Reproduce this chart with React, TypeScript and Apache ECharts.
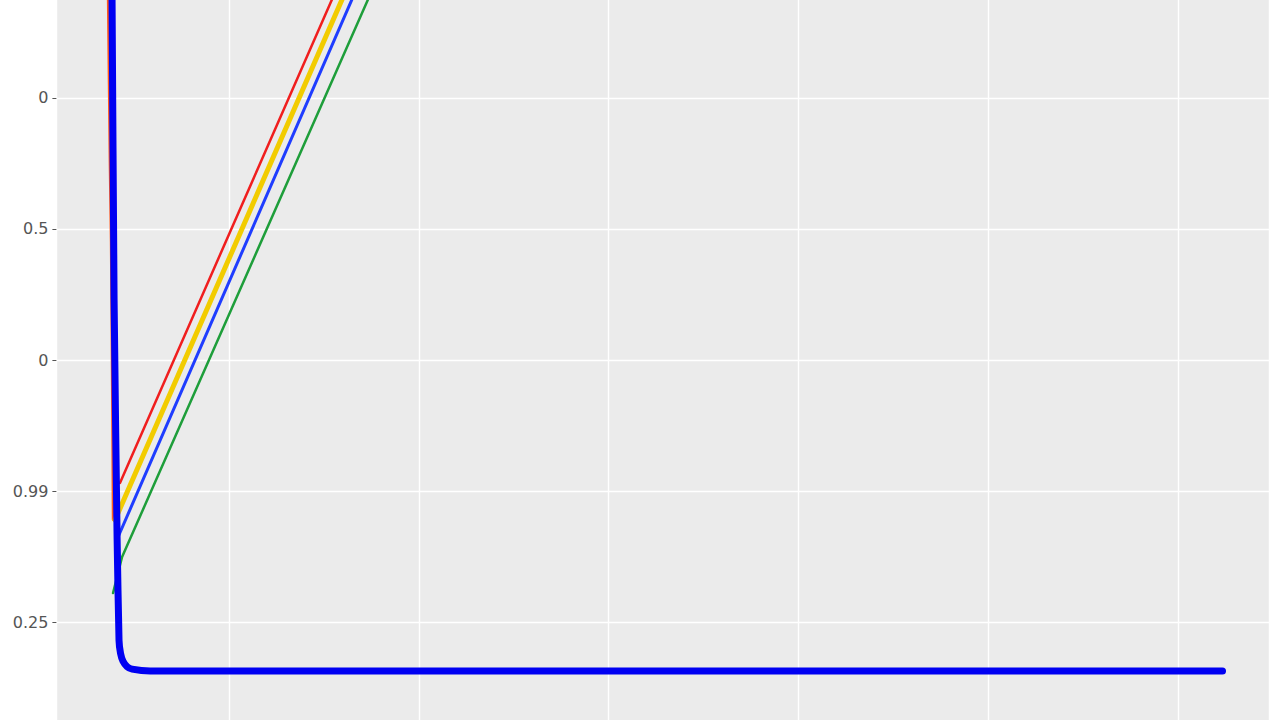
import React, { useEffect, useRef } from 'react';
import * as echarts from 'echarts';

// y tick labels as printed on the chart, bottom to top (values 0..4)
const yTickLabels = ['0.25', '0.99', '0', '0.5', '0'];
const yTickValues = [0, 1, 2, 3, 4];

// [x, y] points
const orangeVertical: number[][] = [
  [0.362, 4.82], [0.372, 3.5], [0.378, 2.9], [0.384, 1.8], [0.3885, 0.78]
];
const greenDiag: number[][] = [[1.754, 4.824], [0.436, 0.496], [0.3885, 0.221]];
const blueDiag: number[][] = [[1.669, 4.824], [0.415, 0.649]];
const yellowDiag: number[][] = [[1.617, 4.824], [0.399, 0.779]];
const redDiag: number[][] = [[1.564, 4.824], [0.425, 1.061]];
const blueThick: number[][] = [
  [0.383, 4.82], [0.394, 2.46], [0.41, 0.63], [0.42, -0.14], [0.428, -0.24], [0.441, -0.3],
  [0.462, -0.34], [0.489, -0.36], [0.584, -0.374], [6.235, -0.374]
];

const lineSeries = (data: number[][], color: string, width: number, smooth: number | boolean = false) => ({
  type: 'line',
  data,
  showSymbol: false,
  symbol: 'none',
  smooth,
  lineStyle: { color, width, cap: 'round', join: 'round' },
  z: 2
});

const App: React.FC = () => {
  const chartRef = useRef<HTMLDivElement>(null);

  useEffect(() => {
    if (!chartRef.current) return;
    const chart = echarts.init(chartRef.current, undefined, { renderer: 'svg' });

    const option = {
      animation: false,
      backgroundColor: '#FFFFFF',
      grid: {
        left: 56.4,
        right: 11,
        top: 0,
        bottom: 0,
        show: true,
        backgroundColor: '#EBEBEB',
        borderWidth: 0
      },
      xAxis: {
        type: 'value',
        min: 0.09,
        max: 6.48,
        minInterval: 1,
        maxInterval: 1,
        axisLine: { show: false },
        axisTick: { show: false },
        axisLabel: { show: false },
        splitLine: {
          show: true,
          lineStyle: { color: '#FFFFFF', width: 1.4 }
        }
      },
      yAxis: {
        type: 'value',
        min: -0.748,
        max: 4.748,
        minInterval: 1,
        maxInterval: 1,
        axisLine: { show: false },
        axisTick: {
          show: true,
          length: 4,
          customValues: yTickValues,
          lineStyle: { color: '#555555', width: 1 }
        },
        axisLabel: {
          customValues: yTickValues,
          margin: 8,
          color: '#555555',
          fontSize: 16,
          fontFamily: 'DejaVu Sans',
          formatter: (v: number) => {
            const i = Math.round(v);
            return Math.abs(v - i) < 1e-6 && yTickLabels[i] !== undefined ? yTickLabels[i] : '';
          }
        },
        splitLine: {
          show: true,
          lineStyle: { color: '#FFFFFF', width: 1.4 }
        }
      },
      series: [
        lineSeries(orangeVertical, '#FF5A1F', 2.5, 0.25),
        lineSeries(greenDiag, '#1E9E3A', 2.5),
        lineSeries(blueDiag, '#1F3DFF', 3),
        lineSeries(yellowDiag, '#F2CC00', 5),
        lineSeries(redDiag, '#F01E1E', 2.5),
        lineSeries(blueThick, '#0000F2', 7, 0.15)
      ]
    };

    chart.setOption(option);
    return () => {
      chart.dispose();
    };
  }, []);

  return (
    <div
      ref={chartRef}
      style={{ position: 'fixed', left: 0, top: 0, width: '1280px', height: '720px' }}
    />
  );
};

export default App;
